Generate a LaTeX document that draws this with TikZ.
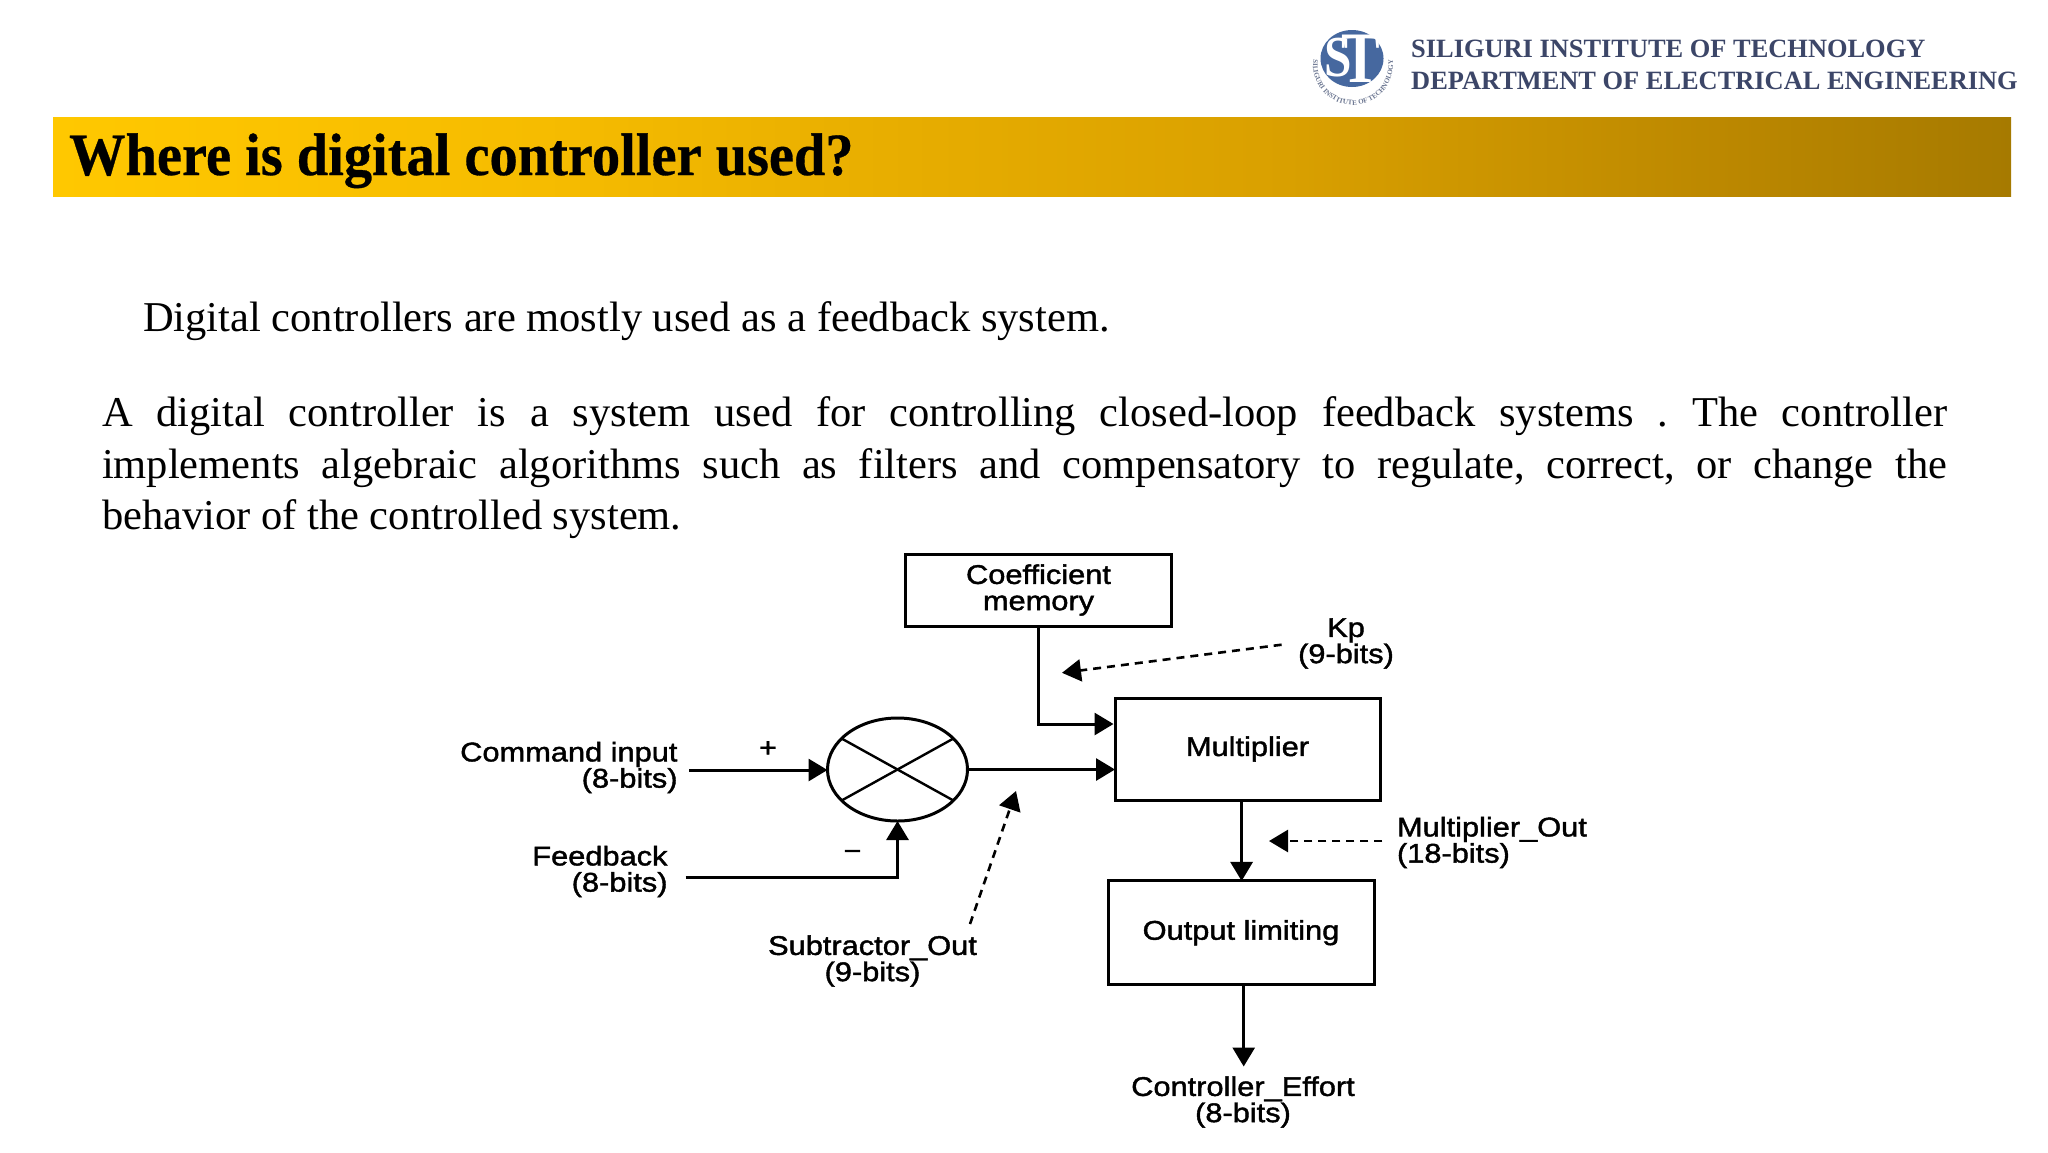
\documentclass[tikz,border=0pt]{standalone}
\usepackage{graphicx}
\usepackage{fontspec}
\setmainfont{Liberation Serif}
\newfontfamily\diagfont[FakeStretch=1.14,FakeBold=1.5]{Liberation Sans}
\newfontfamily\titlefont[FakeStretch=0.94,FakeBold=0.5]{Liberation Serif}
\usetikzlibrary{arrows.meta,decorations.text,shapes.geometric}
\definecolor{barA}{HTML}{FFC800}
\definecolor{barB}{HTML}{F6BC00}
\definecolor{barC}{HTML}{E6AC00}
\definecolor{barD}{HTML}{D9A000}
\definecolor{barE}{HTML}{BC8800}
\definecolor{barF}{HTML}{A67A00}
\definecolor{logoblue}{HTML}{46689F}
\definecolor{logotext}{HTML}{3C4668}
\definecolor{logoring}{HTML}{6A7590}
\pgfdeclarehorizontalshading{barshade}{100bp}{color(0bp)=(barA);color(25bp)=(barA);color(37.5bp)=(barB);color(47.5bp)=(barC);color(56.5bp)=(barD);color(67.5bp)=(barE);color(75bp)=(barF);color(100bp)=(barF)}
\tikzset{
  blockbox/.style={draw=black,line width=3pt,fill=white,inner sep=0pt,outer sep=0pt,font=\diagfont\fontsize{27}{26.2}\selectfont,align=center},
  lab/.style={inner sep=0pt,outer sep=0pt,font=\diagfont\fontsize{27}{26.2}\selectfont,align=center},
  wire/.style={draw=black,line width=3pt},
  solidarrow/.style={wire,-{Triangle[length=19pt,width=22pt]}},
  dasharrow/.style={draw=black,line width=2.6pt,dash pattern=on 8pt off 6pt,-{Triangle[length=19pt,width=22pt]}},
  bodyline/.style={inner sep=0pt,outer sep=0pt,anchor=base west,font=\fontsize{42.5}{51}\selectfont\frenchspacing}
}
\begin{document}
\begin{tikzpicture}[x=1pt,y=-1pt]
\useasboundingbox (0,0) rectangle (2048,1152);
\fill[white] (0,0) rectangle (2048,1152);
% header bar
\path[shading=barshade] (53,117) rectangle (2011,196);
\node[inner sep=0pt,anchor=base west,font=\titlefont\bfseries\fontsize{60}{62}\selectfont] (title) at (69,175) {Where is digital controller used?};
% logo
\fill[logoblue] (1352,58.5) ellipse [x radius=31.5,y radius=28.5];
\path[decorate,decoration={text along path,text align=center,text={|\fontsize{7}{8}\selectfont\bfseries\color{logoring}|SILIGURI INSTITUTE OF TECHNOLOGY}}]
  (1353,65) ++(197:40) arc[start angle=197,end angle=-17,x radius=40,y radius=40];
\node[inner sep=0pt,text=white,font=\bfseries\fontsize{58}{58}\selectfont] (logoT) at (1361,59) {\scalebox{1}[1.25]{T}};
\node[inner sep=0pt,text=white,font=\bfseries\fontsize{58}{58}\selectfont] (logoS) at (1338,58) {\scalebox{0.85}[1]{S}};
\node[inner sep=0pt,anchor=base west,text=logotext,font=\bfseries\fontsize{26.4}{27}\selectfont] (org1) at (1411,57) {SILIGURI INSTITUTE OF TECHNOLOGY};
\node[inner sep=0pt,anchor=base west,text=logotext,font=\bfseries\fontsize{26.4}{27}\selectfont] (org2) at (1411,89) {DEPARTMENT OF ELECTRICAL ENGINEERING};
% body
\node[bodyline] (intro) at (143,331) {Digital controllers are mostly used as a feedback system.};
\node[bodyline] (p1) at (102,426) {\makebox[1845pt][s]{A digital controller is a system used for controlling closed-loop feedback systems . The controller}};
\node[bodyline] (p2) at (102,478) {\makebox[1845pt][s]{implements algebraic algorithms such as filters and compensatory to regulate, correct, or change the}};
\node[bodyline] (p3) at (102,529) {behavior of the controlled system.};
% diagram
\node[blockbox,minimum width=266pt,minimum height=72pt] (coef) at (1038.5,590) {\raisebox{-1pt}{Coefficient}\\\raisebox{-1pt}{memory}};
\node[blockbox,minimum width=265pt,minimum height=102pt] (mult) at (1247.5,749) {\raisebox{-1pt}{Multiplier}};
\node[blockbox,minimum width=266pt,minimum height=103.5pt] (outlim) at (1241,932.7) {\raisebox{-1pt}{Output limiting}};
\node[ellipse,draw=black,line width=3pt,fill=white,inner sep=0pt,outer sep=0pt,minimum width=140pt,minimum height=103pt] (sum) at (897.5,769.5) {};
\draw[line width=2.4pt] (sum.29) -- (sum.209);
\draw[line width=2.4pt] (sum.151) -- (sum.331);
\node[lab,anchor=east,align=right] (cmd) at (677.5,767.5) {Command input\\(8-bits)};
\node[lab,anchor=east,align=right] (fb) at (667.5,871.5) {Feedback\\(8-bits)};
\node[lab] (subout) at (872.5,961) {Subtractor\_Out\\(9-bits)};
\node[lab] (kp) at (1346,643.5) {Kp\\(9-bits)};
\node[lab,anchor=west,align=left] (mout) at (1397,842.5) {Multiplier\_Out\\(18-bits)};
\node[lab] (effort) at (1243,1102) {Controller\_Effort\\(8-bits)};
\node[lab] (plus) at (768,749) {+};
\node[lab] (minus) at (852.5,855) {\textminus};
\coordinate (cmdout) at (689,770);
\coordinate (fbout) at (685.5,877);
\coordinate (m1) at (1113.5,724);
\coordinate (effortend) at (1243.7,1066.5);
\coordinate (kpfrom) at (1281.6,644.7);
\coordinate (kptip) at (1062,672.8);
\coordinate (subfrom) at (970,924);
\coordinate (subtip) at (1016,791);
\coordinate (moutfrom) at (1382.4,841);
\coordinate (mouttip) at (1269,841);
\draw[solidarrow] (cmdout) -- (sum.west |- cmdout);
\draw[solidarrow] (fbout) -| (sum.south);
\draw[solidarrow] (sum.east) -- (sum.east -| mult.west);
\draw[solidarrow] (coef.south) |- (m1);
\draw[solidarrow] (mult.south -| 1241.6,0) -- (outlim.north -| 1241.6,0);
\draw[solidarrow] (outlim.south -| effortend) -- (effortend);
\draw[dasharrow] (kpfrom) -- (kptip);
\draw[dasharrow] (subfrom) -- (subtip);
\draw[dasharrow] (moutfrom) -- (mouttip);
\end{tikzpicture}
\end{document}
